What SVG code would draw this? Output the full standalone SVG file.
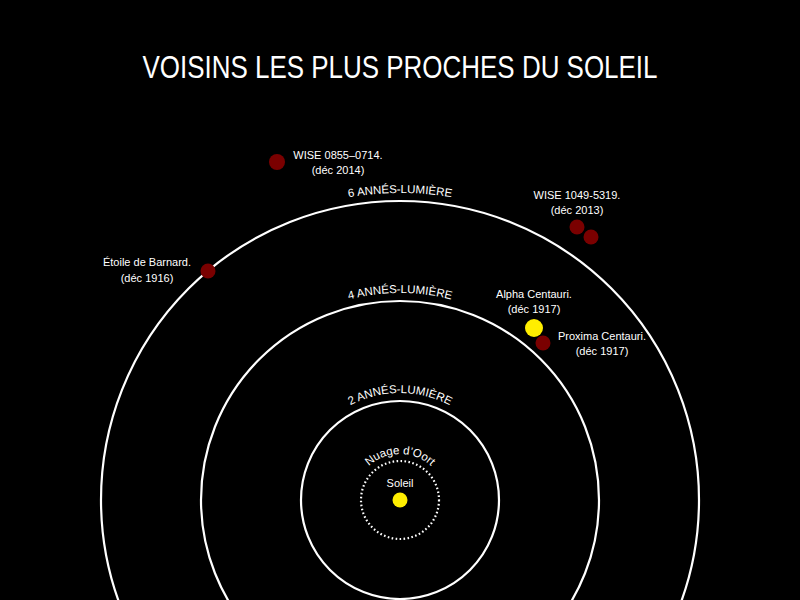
<svg xmlns="http://www.w3.org/2000/svg" xmlns:xlink="http://www.w3.org/1999/xlink" width="800" height="600" viewBox="0 0 800 600">
<style>
.ring{fill:none;stroke:#fff;stroke-width:2.2}
.oort{fill:none;stroke:#fff;stroke-width:2.2;stroke-dasharray:1.6 2.4}
.lbl{font-family:"Liberation Sans","DejaVu Sans",sans-serif;font-size:11px;fill:#fff;text-anchor:middle}
.rl{font-family:"Liberation Sans","DejaVu Sans",sans-serif;font-size:11.5px;fill:#fff}
.title{font-family:"Liberation Sans","DejaVu Sans",sans-serif;font-size:31px;fill:#fff;text-anchor:middle}
.dwarf{fill:#7a0000}
.star{fill:#ffee00}
</style>
<defs>
<path id="p100" d="M293,500 A107,107 0 0 1 507,500"/>
<path id="p200" d="M193,500 A207,207 0 0 1 607,500"/>
<path id="p300" d="M93,500 A307,307 0 0 1 707,500"/>
<path id="poort" d="M354,500 A46,46 0 0 1 446,500"/>
</defs>
<rect width="800" height="600" fill="#000"/>
<text class="title" x="400" y="78" textLength="515" lengthAdjust="spacingAndGlyphs">VOISINS LES PLUS PROCHES DU SOLEIL</text>
<g id="rings">
<circle id="ring2" class="ring" cx="400" cy="500" r="99"/>
<circle id="ring4" class="ring" cx="400" cy="500" r="199"/>
<circle id="ring6" class="ring" cx="400" cy="500" r="299"/>
<circle id="oort" class="oort" cx="400" cy="500" r="39"/>
<text class="rl"><textPath xlink:href="#p100" startOffset="50%" text-anchor="middle">2 ANNÉS-LUMIÈRE</textPath></text>
<text class="rl"><textPath xlink:href="#p200" startOffset="50%" text-anchor="middle">4 ANNÉS-LUMIÈRE</textPath></text>
<text class="rl"><textPath xlink:href="#p300" startOffset="50%" text-anchor="middle">6 ANNÉS-LUMIÈRE</textPath></text>
<text class="rl"><textPath xlink:href="#poort" startOffset="50%" text-anchor="middle">Nuage d’Oort</textPath></text>
</g>
<g id="soleil">
<circle class="star" cx="400" cy="500" r="7.5"/>
<text class="lbl" x="400" y="487">Soleil</text>
</g>
<g id="wise0855">
<circle class="dwarf" cx="277" cy="162" r="8"/>
<text class="lbl" x="338" y="159">WISE 0855–0714.</text>
<text class="lbl" x="338" y="174">(déc 2014)</text>
</g>
<g id="wise1049">
<circle class="dwarf" cx="577" cy="227" r="7.5"/>
<circle class="dwarf" cx="591" cy="237" r="7.5"/>
<text class="lbl" x="577" y="199">WISE 1049-5319.</text>
<text class="lbl" x="577" y="214">(déc 2013)</text>
</g>
<g id="barnard">
<circle class="dwarf" cx="208" cy="271" r="7.5"/>
<text class="lbl" x="147" y="266">Étoile de Barnard.</text>
<text class="lbl" x="147" y="282">(déc 1916)</text>
</g>
<g id="alpha">
<circle class="star" cx="534" cy="328" r="9"/>
<text class="lbl" x="534" y="298">Alpha Centauri.</text>
<text class="lbl" x="534" y="313">(déc 1917)</text>
</g>
<g id="proxima">
<circle class="dwarf" cx="543" cy="343" r="7.5"/>
<text class="lbl" x="602" y="340">Proxima Centauri.</text>
<text class="lbl" x="602" y="355">(déc 1917)</text>
</g>
</svg>
